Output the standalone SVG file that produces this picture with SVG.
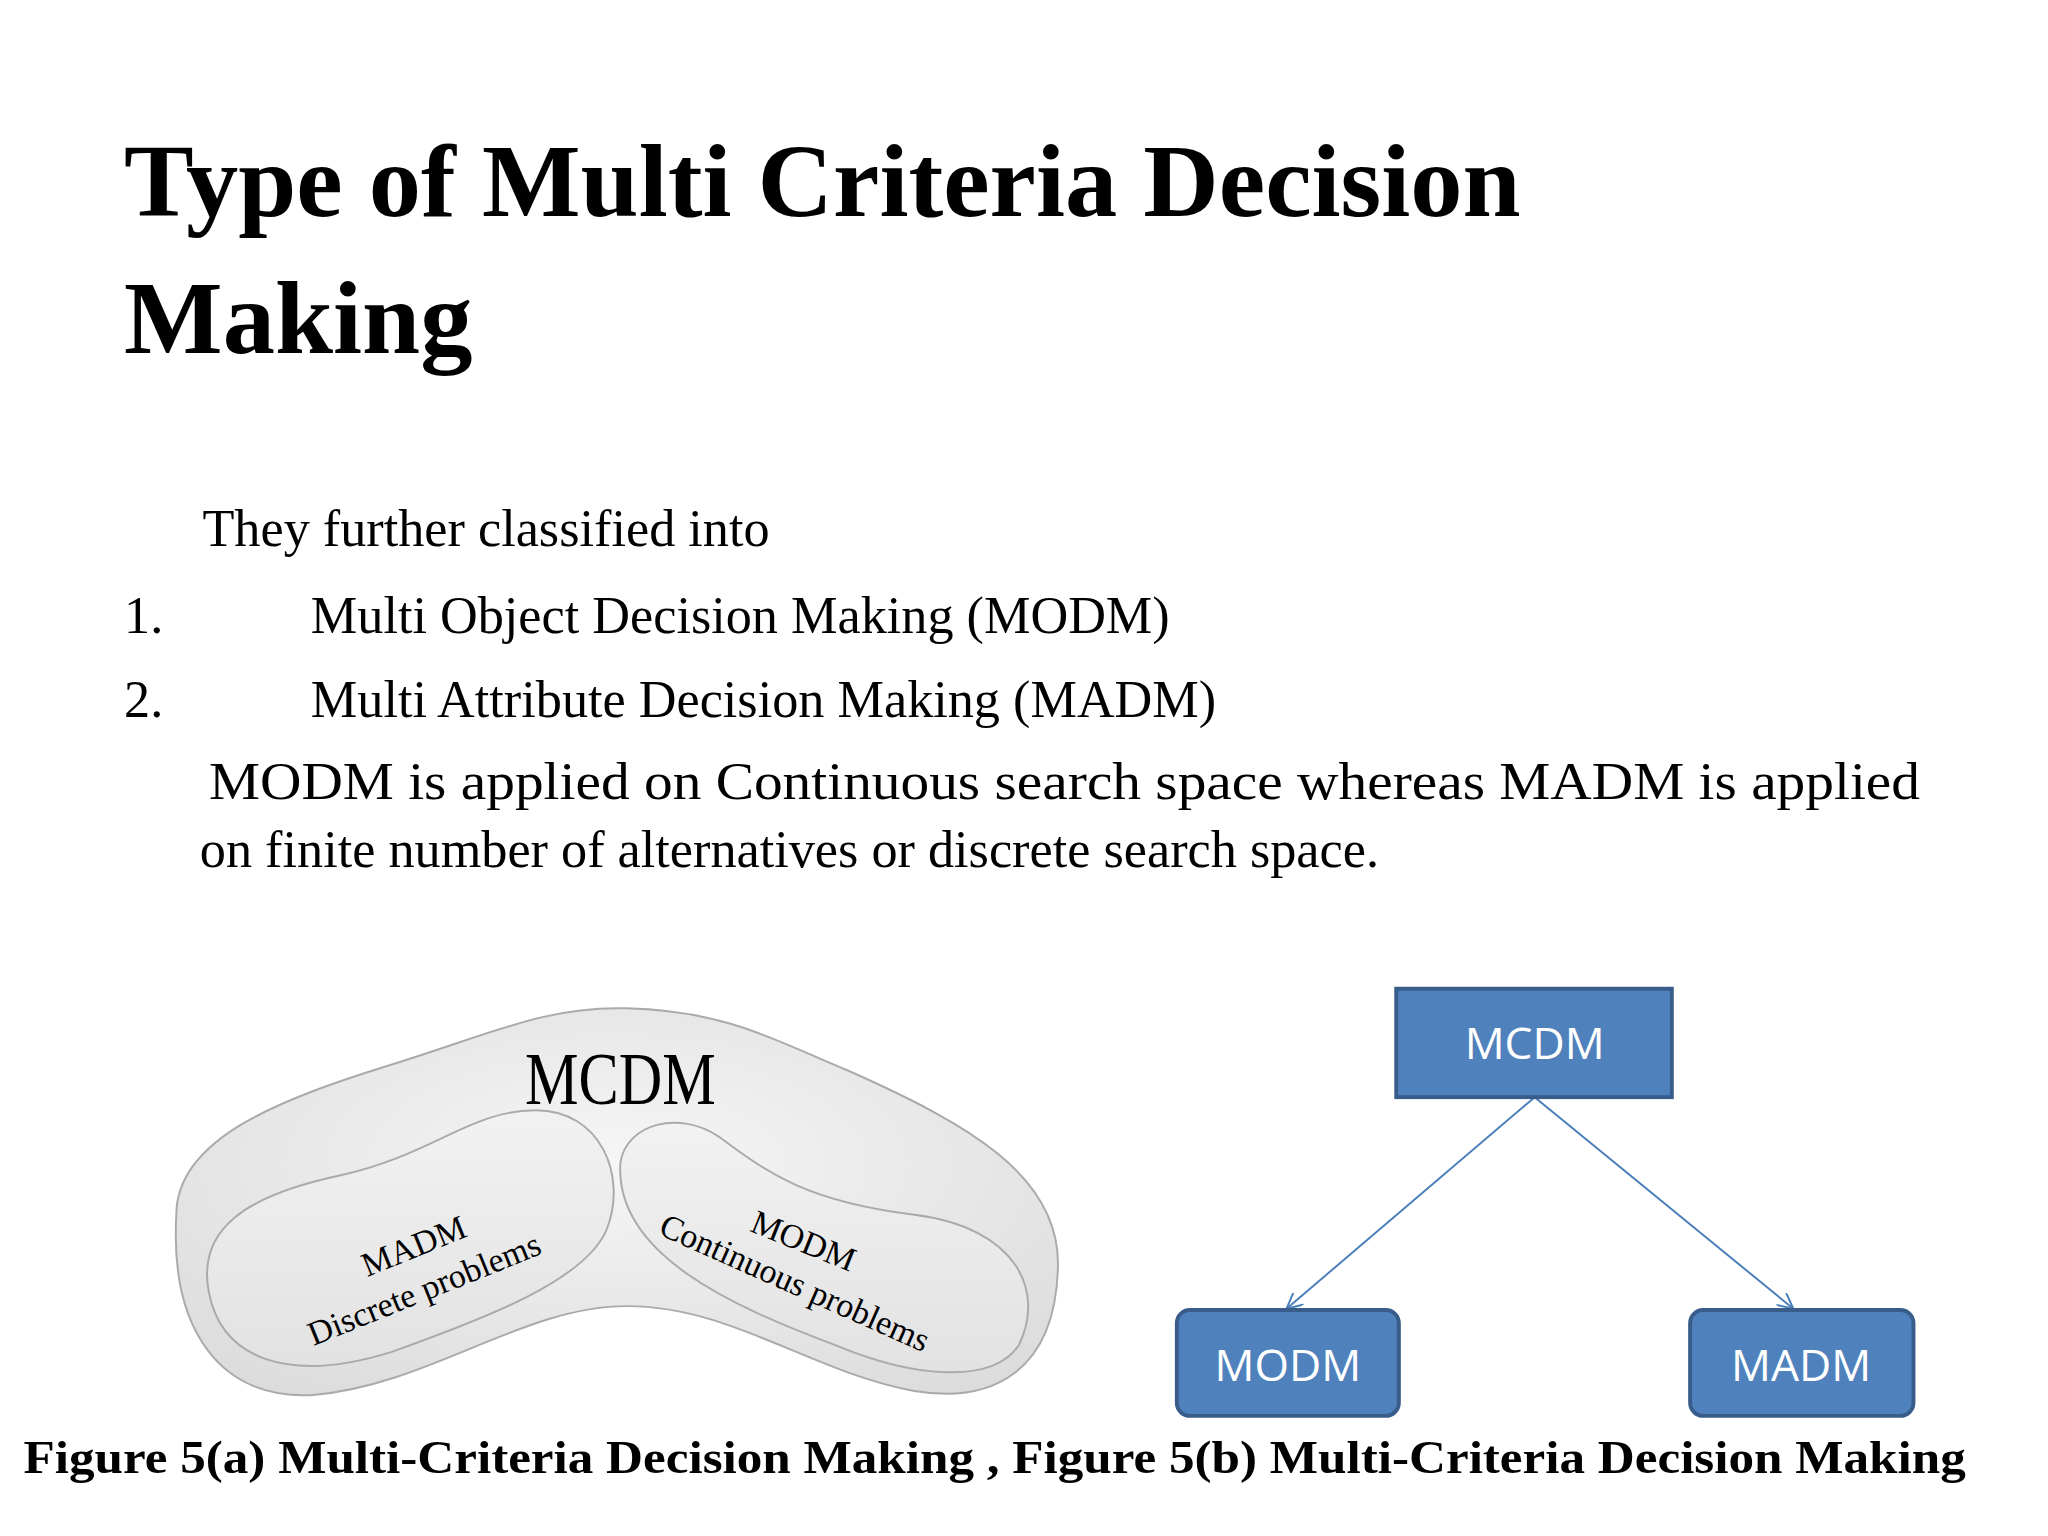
<svg xmlns="http://www.w3.org/2000/svg" width="2048" height="1536" viewBox="0 0 2048 1536">
<style>
.s{font-family:"Liberation Serif","Times New Roman",serif;fill:#000}
.b{font-weight:bold}
.box{fill:#4F81BD;stroke:#385D8A;stroke-width:3}
.bt{font-family:"Open Sans","Liberation Sans",sans-serif;fill:#fff;font-size:34px;text-anchor:middle}
.blob{stroke:#aaa;stroke-width:1.5}
</style>
<defs>
<radialGradient id="g1" cx="0.5" cy="0.4" r="0.7"><stop offset="0" stop-color="#f6f6f6"/><stop offset="1" stop-color="#dcdcdc"/></radialGradient>
<linearGradient id="g2" x1="0" y1="0" x2="0" y2="1"><stop offset="0" stop-color="#f2f2f2"/><stop offset="1" stop-color="#e2e2e2"/></linearGradient>
<marker id="ah" markerWidth="14" markerHeight="12" refX="12" refY="6" orient="auto" markerUnits="userSpaceOnUse"><path d="M0,0 L12,6 L0,12" fill="none" stroke="#4A7EBB" stroke-width="1.5"/></marker>
</defs>
<rect width="2048" height="1536" fill="#fff"/>
<g transform="scale(1.30612)">
<g id="title" class="s b" font-size="80">
<text x="95" y="165">Type of Multi Criteria Decision</text>
<text x="95" y="270">Making</text>
</g>
<g id="body" class="s" font-size="40">
<text x="155" y="418">They further classified into</text>
<text x="95" y="485">1.</text><text x="238" y="485">Multi Object Decision Making (MODM)</text>
<text x="95" y="549">2.</text><text x="238" y="549">Multi Attribute Decision Making (MADM)</text>
<text x="160" y="612" textLength="1310" lengthAdjust="spacingAndGlyphs">MODM is applied on Continuous search space  whereas MADM is applied</text>
<text x="153" y="664">on finite number of alternatives or discrete search space.</text>
</g>
<g id="fig-a">
<path class="blob" fill="url(#g1)" d="M135,930 C135,870 220,840 300,815 C380,790 420,770 480,772 C560,774 600,800 650,820 C740,860 812,900 810,970 C808,1050 760,1075 700,1065 C620,1050 560,1000 480,1000 C400,1000 330,1060 240,1068 C170,1072 130,1020 135,930 Z"/>
<path class="blob" fill="url(#g2)" d="M160,990 C150,940 190,915 260,900 C330,885 360,850 410,850 C460,850 480,900 465,940 C450,980 370,1010 300,1035 C220,1060 170,1040 160,990 Z"/>
<path class="blob" fill="url(#g2)" d="M475,890 C480,860 520,850 550,870 C590,900 620,920 700,930 C780,940 800,990 780,1030 C760,1060 700,1055 640,1030 C560,1000 470,960 475,890 Z"/>
<text class="s" x="475" y="845" font-size="56" text-anchor="middle" textLength="146" lengthAdjust="spacingAndGlyphs">MCDM</text>
<text class="s" font-size="26" text-anchor="middle" transform="translate(320,962) rotate(-22)">MADM</text>
<text class="s" font-size="26" text-anchor="middle" transform="translate(328,995) rotate(-22)">Discrete problems</text>
<text class="s" font-size="26" text-anchor="middle" transform="translate(612,958) rotate(22)">MODM</text>
<text class="s" font-size="26" text-anchor="middle" transform="translate(605,990) rotate(24)">Continuous problems</text>
</g>
<g id="connectors" stroke="#4A7EBB" stroke-width="1.5" fill="none">
<line x1="1175" y1="840" x2="985" y2="1002" marker-end="url(#ah)"/>
<line x1="1175" y1="840" x2="1373" y2="1002" marker-end="url(#ah)"/>
</g>
<g id="n-mcdm"><rect class="box" x="1069" y="757" width="211" height="83"/><text class="bt" x="1175" y="811">MCDM</text></g>
<g id="n-modm"><rect class="box" x="901" y="1003" width="170" height="81" rx="10"/><text class="bt" x="986" y="1057">MODM</text></g>
<g id="n-madm"><rect class="box" x="1294" y="1003" width="171" height="81" rx="10"/><text class="bt" x="1379" y="1057">MADM</text></g>
<text id="caption" class="s b" x="18" y="1128" font-size="36" textLength="1487" lengthAdjust="spacingAndGlyphs">Figure 5(a) Multi-Criteria Decision Making , Figure 5(b) Multi-Criteria Decision Making</text>
</g>
</svg>
